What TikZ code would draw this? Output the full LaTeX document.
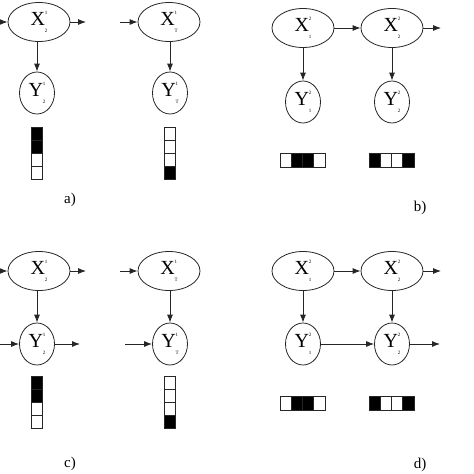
\documentclass[tikz,border=0pt]{standalone}
\usepackage{fontspec}
\setmainfont{Liberation Serif}
\usetikzlibrary{shapes.geometric,arrows.meta,positioning}
\tikzset{
  ellx/.style={ellipse,draw=black!85,line width=0.8pt,minimum width=62pt,minimum height=39pt,
               inner sep=0pt,font=\fontsize{20}{20}\selectfont},
  elly/.style={ellx,minimum width=35pt,minimum height=42pt},
  arr/.style={-{Latex[length=8pt,width=6pt]},black!85,line width=0.8pt},
  cell/.style={draw=black!85,line width=0.7pt},
  lbl/.style={font=\fontsize{15}{15}\selectfont},
}
\newcommand{\rv}[3]{#1\rlap{\raisebox{1.1ex}{\fontsize{5}{5}\selectfont #2}}\raisebox{-0.8ex}{\fontsize{5}{5}\selectfont #3}}

\begin{document}
\begin{tikzpicture}[x=1pt,y=-1pt]
\useasboundingbox (0,0) rectangle (474,474);

% a)
\node[ellx] (xa) at (39,22) {\rv{X}{1}{2}};
\node[ellx] (xaT) at (169,22) {\rv{X}{1}{T}};
\node[elly] (ya) at (37,93) {\rv{Y}{1}{2}};
\node[elly] (yaT) at (170,93) {\rv{Y}{1}{T}};
\coordinate (ain) at (0,22);
\coordinate (aout) at (86,22);
\coordinate (aTin) at (120,22);
\draw[arr] (ain) -- (xa);
\draw[arr] (xa) -- (aout);
\draw[arr] (aTin) -- (xaT);
\draw[arr] (xa.south -| ya.north) -- (ya);
\draw[arr] (xaT.south -| yaT.north) -- (yaT);
\foreach \c [count=\i from 0] in {black,black,white,white}
  \draw[cell,fill=\c] (31,127+13*\i) rectangle ++(11,13);
\foreach \c [count=\i from 0] in {white,white,white,black}
  \draw[cell,fill=\c] (164,127+13*\i) rectangle ++(11,13);
\node[lbl] (la) at (70,200) {a)};

% b)
\node[ellx] (xb1) at (303,28) {\rv{X}{2}{1}};
\node[ellx] (xb2) at (392,28) {\rv{X}{2}{2}};
\node[elly] (yb1) at (303,102) {\rv{Y}{2}{1}};
\node[elly] (yb2) at (392,102) {\rv{Y}{2}{2}};
\coordinate (bout) at (441,28);
\draw[arr] (xb1) -- (xb2);
\draw[arr] (xb2) -- (bout);
\draw[arr] (xb1) -- (yb1);
\draw[arr] (xb2) -- (yb2);
\foreach \c [count=\i from 0] in {white,black,black,white}
  \draw[cell,fill=\c] (280+11.25*\i,153) rectangle ++(11.25,14);
\foreach \c [count=\i from 0] in {black,white,white,black}
  \draw[cell,fill=\c] (369+11.25*\i,153) rectangle ++(11.25,14);
\node[lbl] (lb) at (420,208) {b)};

% c)
\node[ellx] (xc) at (39,271) {\rv{X}{1}{2}};
\node[ellx] (xcT) at (169,271) {\rv{X}{1}{T}};
\node[elly] (yc) at (37,344) {\rv{Y}{1}{2}};
\node[elly] (ycT) at (170,344) {\rv{Y}{1}{T}};
\coordinate (cin) at (0,271);
\coordinate (cout) at (86,271);
\coordinate (cTin) at (120,271);
\coordinate (cyin) at (0,344);
\coordinate (cyout) at (80,344);
\coordinate (cyTin) at (125,344);
\draw[arr] (cin) -- (xc);
\draw[arr] (xc) -- (cout);
\draw[arr] (cTin) -- (xcT);
\draw[arr] (cyin) -- (yc);
\draw[arr] (yc) -- (cyout);
\draw[arr] (cyTin) -- (ycT);
\draw[arr] (xc.south -| yc.north) -- (yc);
\draw[arr] (xcT.south -| ycT.north) -- (ycT);
\foreach \c [count=\i from 0] in {black,black,white,white}
  \draw[cell,fill=\c] (31,376+13*\i) rectangle ++(11,13);
\foreach \c [count=\i from 0] in {white,white,white,black}
  \draw[cell,fill=\c] (164,376+13*\i) rectangle ++(11,13);
\node[lbl] (lc) at (70,464) {c)};

% d)
\node[ellx] (xd1) at (303,271) {\rv{X}{2}{1}};
\node[ellx] (xd2) at (392,271) {\rv{X}{2}{2}};
\node[elly] (yd1) at (303,344) {\rv{Y}{2}{1}};
\node[elly] (yd2) at (392,344) {\rv{Y}{2}{2}};
\coordinate (dout) at (441,271);
\coordinate (dyout) at (440,344);
\draw[arr] (xd1) -- (xd2);
\draw[arr] (xd2) -- (dout);
\draw[arr] (xd1) -- (yd1);
\draw[arr] (xd2) -- (yd2);
\draw[arr] (yd1) -- (yd2);
\draw[arr] (yd2) -- (dyout);
\foreach \c [count=\i from 0] in {white,black,black,white}
  \draw[cell,fill=\c] (280+11.25*\i,396) rectangle ++(11.25,14);
\foreach \c [count=\i from 0] in {black,white,white,black}
  \draw[cell,fill=\c] (369+11.25*\i,396) rectangle ++(11.25,14);
\node[lbl] (ld) at (420,465) {d)};
\end{tikzpicture}
\end{document}
